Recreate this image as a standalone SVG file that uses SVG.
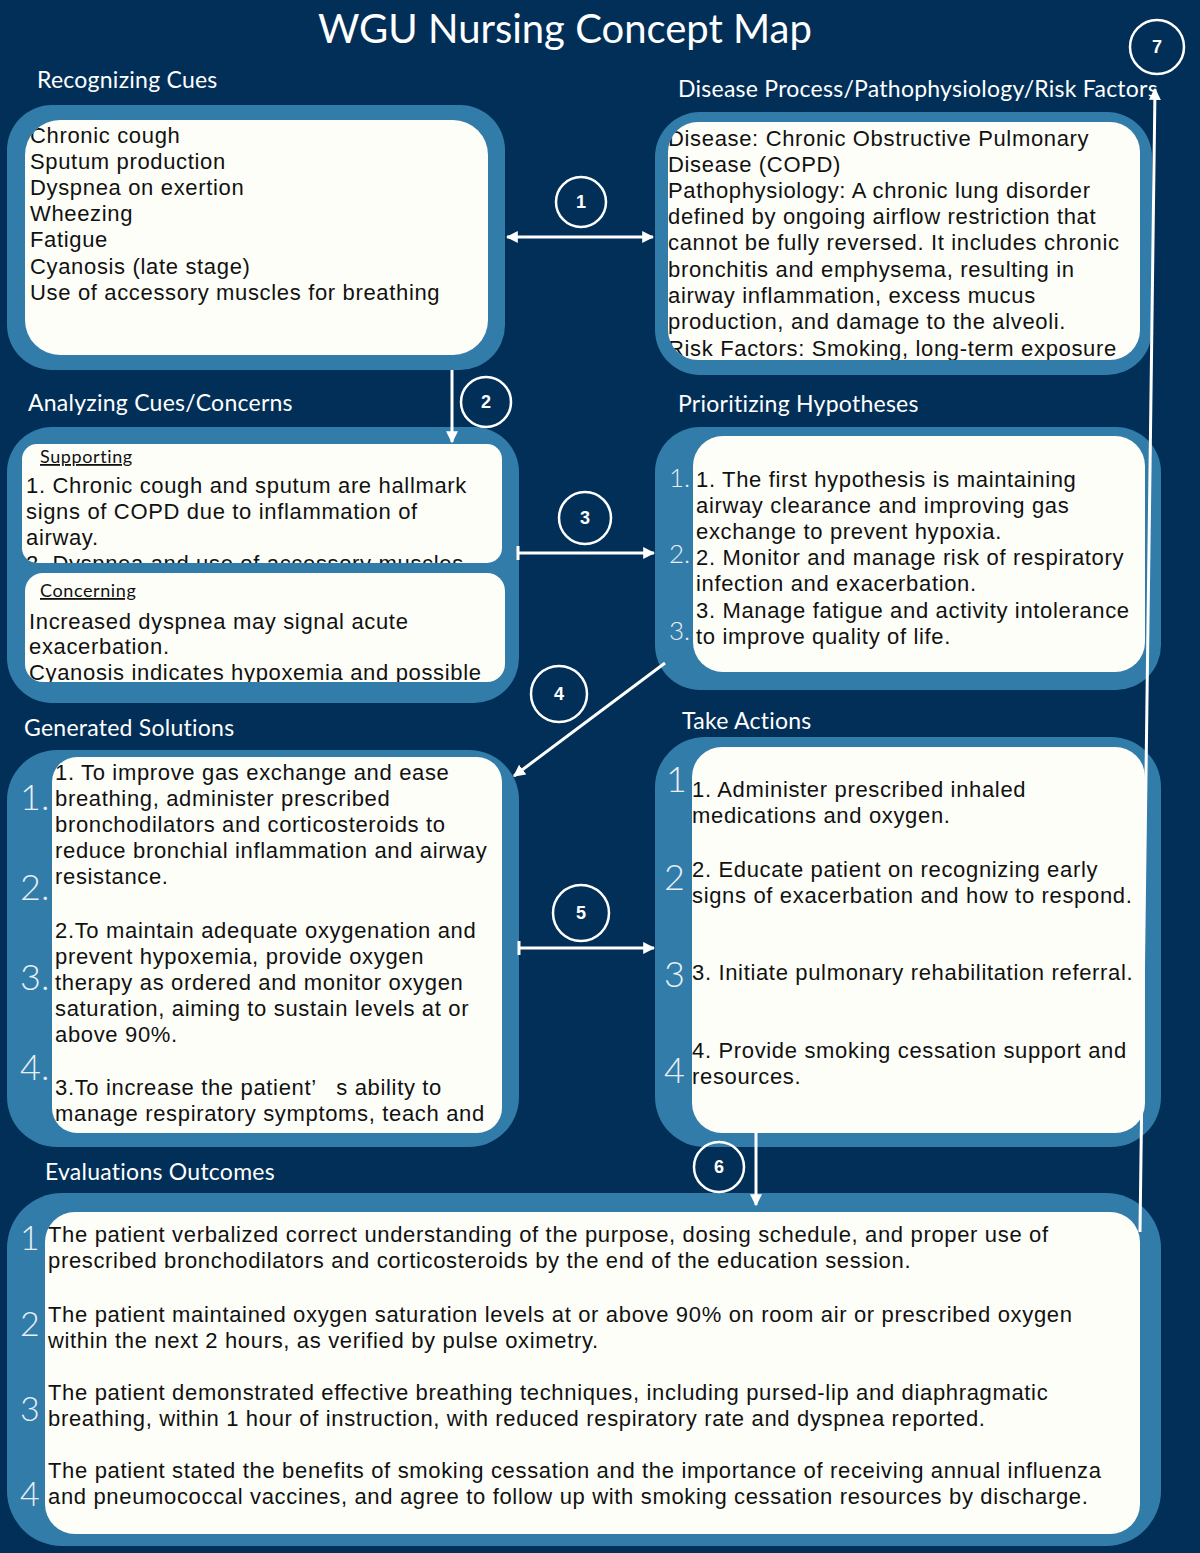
<svg xmlns="http://www.w3.org/2000/svg" width="1200" height="1553" viewBox="0 0 1200 1553">
<style>
.bg{fill:#022f57}
.outer{fill:#327caa}
.inner{fill:#fefef8}
.head{font-family:Lato,"Open Sans","Liberation Sans",sans-serif;fill:#ffffff;font-size:23px;letter-spacing:0.25px}
.title{font-family:Lato,"Open Sans","Liberation Sans",sans-serif;fill:#ffffff;font-size:40px}
.body{font-family:"Liberation Sans",Arial,sans-serif;fill:#111111;font-size:22px;letter-spacing:0.66px}
.sub{font-family:Lato,"Liberation Sans",sans-serif;fill:#111111;font-size:18px;letter-spacing:0.6px;text-decoration:underline}
.num{font-family:Lato,"Open Sans","Liberation Sans",sans-serif;fill:#e8eff5;font-weight:300}
.conn{stroke:#ffffff;stroke-width:3;fill:none}
.badge{stroke:#ffffff;stroke-width:2.5;fill:none}
.badgeText{font-family:"Liberation Sans",Arial,sans-serif;font-weight:bold;fill:#ffffff;font-size:18px;text-anchor:middle}
</style>
<defs>
<marker id="ah" viewBox="0 0 10 10" refX="9" refY="5" markerWidth="4" markerHeight="4" orient="auto-start-reverse" markerUnits="strokeWidth">
<path d="M0,0 L10,5 L0,10 z" fill="#ffffff"/>
</marker>
<clipPath id="c1"><rect x="25" y="120" width="463" height="235" rx="35"/></clipPath>
<clipPath id="c2"><rect x="668" y="122" width="472" height="238" rx="30"/></clipPath>
<clipPath id="c3a"><rect x="22" y="444" width="480" height="119" rx="15"/></clipPath>
<clipPath id="c3b"><rect x="25" y="573" width="480" height="109" rx="18"/></clipPath>
<clipPath id="c4"><rect x="693" y="436" width="452" height="236" rx="30"/></clipPath>
<clipPath id="c5"><rect x="52" y="757" width="450" height="376" rx="25"/></clipPath>
<clipPath id="c6"><rect x="692" y="747" width="453" height="386" rx="30"/></clipPath>
<clipPath id="c7"><rect x="45" y="1212" width="1095" height="322" rx="30"/></clipPath>
</defs>
<rect class="bg" x="0" y="0" width="1200" height="1553"/>
<text class="title" x="565" y="43" text-anchor="middle">WGU Nursing Concept Map</text>

<g id="recognizing-cues">
<text class="head" x="37" y="88">Recognizing Cues</text>
<rect class="outer" x="7" y="105" width="498" height="265" rx="45"/>
<rect class="inner" x="25" y="120" width="463" height="235" rx="35"/>
<g clip-path="url(#c1)">
<text class="body" x="30" y="143">Chronic cough</text>
<text class="body" x="30" y="169">Sputum production</text>
<text class="body" x="30" y="195">Dyspnea on exertion</text>
<text class="body" x="30" y="221">Wheezing</text>
<text class="body" x="30" y="247">Fatigue</text>
<text class="body" x="30" y="274">Cyanosis (late stage)</text>
<text class="body" x="30" y="300">Use of accessory muscles for breathing</text>
</g>
</g>

<g id="disease-process">
<text class="head" x="678" y="97">Disease Process/Pathophysiology/Risk Factors</text>
<rect class="outer" x="655" y="112" width="497" height="263" rx="45"/>
<rect class="inner" x="668" y="122" width="472" height="238" rx="30"/>
<g clip-path="url(#c2)">
<text class="body" x="668" y="146">Disease: Chronic Obstructive Pulmonary</text>
<text class="body" x="668" y="172">Disease (COPD)</text>
<text class="body" x="668" y="198">Pathophysiology: A chronic lung disorder</text>
<text class="body" x="668" y="224">defined by ongoing airflow restriction that</text>
<text class="body" x="668" y="250">cannot be fully reversed. It includes chronic</text>
<text class="body" x="668" y="277">bronchitis and emphysema, resulting in</text>
<text class="body" x="668" y="303">airway inflammation, excess mucus</text>
<text class="body" x="668" y="329">production, and damage to the alveoli.</text>
<text class="body" x="668" y="356">Risk Factors: Smoking, long-term exposure</text>
</g>
</g>

<g id="analyzing-cues">
<text class="head" x="28" y="411">Analyzing Cues/Concerns</text>
<rect class="outer" x="7" y="427" width="512" height="276" rx="45"/>
<rect class="inner" x="22" y="444" width="480" height="119" rx="15"/>
<rect class="inner" x="25" y="573" width="480" height="109" rx="18"/>
<g clip-path="url(#c3a)">
<text class="sub" x="40" y="463">Supporting</text>
<text class="body" x="26" y="493">1. Chronic cough and sputum are hallmark</text>
<text class="body" x="26" y="519">signs of COPD due to inflammation of</text>
<text class="body" x="26" y="545">airway.</text>
<text class="body" x="26" y="571">2. Dyspnea and use of accessory muscles</text>
</g>
<g clip-path="url(#c3b)">
<text class="sub" x="40" y="597">Concerning</text>
<text class="body" x="29" y="629">Increased dyspnea may signal acute</text>
<text class="body" x="29" y="654">exacerbation.</text>
<text class="body" x="29" y="680">Cyanosis indicates hypoxemia and possible</text>
</g>
</g>

<g id="prioritizing-hypotheses">
<text class="head" x="678" y="412">Prioritizing Hypotheses</text>
<rect class="outer" x="655" y="427" width="506" height="263" rx="45"/>
<rect class="inner" x="693" y="436" width="452" height="236" rx="30"/>
<text class="num" x="669" y="487" font-size="26">1.</text>
<text class="num" x="669" y="563" font-size="26">2.</text>
<text class="num" x="669" y="640" font-size="26">3.</text>
<g clip-path="url(#c4)">
<text class="body" x="696" y="487">1. The first hypothesis is maintaining</text>
<text class="body" x="696" y="513">airway clearance and improving gas</text>
<text class="body" x="696" y="539">exchange to prevent hypoxia.</text>
<text class="body" x="696" y="565">2. Monitor and manage risk of respiratory</text>
<text class="body" x="696" y="591">infection and exacerbation.</text>
<text class="body" x="696" y="618">3. Manage fatigue and activity intolerance</text>
<text class="body" x="696" y="644">to improve quality of life.</text>
</g>
</g>

<g id="generated-solutions">
<text class="head" x="24" y="736">Generated Solutions</text>
<rect class="outer" x="7" y="750" width="512" height="397" rx="50"/>
<rect class="inner" x="52" y="757" width="450" height="376" rx="25"/>
<text class="num" x="20" y="810" font-size="36">1.</text>
<text class="num" x="20" y="900" font-size="36">2.</text>
<text class="num" x="20" y="990" font-size="36">3.</text>
<text class="num" x="20" y="1080" font-size="36">4.</text>
<g clip-path="url(#c5)">
<text class="body" x="55" y="780">1. To improve gas exchange and ease</text>
<text class="body" x="55" y="806">breathing, administer prescribed</text>
<text class="body" x="55" y="832">bronchodilators and corticosteroids to</text>
<text class="body" x="55" y="858">reduce bronchial inflammation and airway</text>
<text class="body" x="55" y="884">resistance.</text>
<text class="body" x="55" y="938">2.To maintain adequate oxygenation and</text>
<text class="body" x="55" y="964">prevent hypoxemia, provide oxygen</text>
<text class="body" x="55" y="990">therapy as ordered and monitor oxygen</text>
<text class="body" x="55" y="1016">saturation, aiming to sustain levels at or</text>
<text class="body" x="55" y="1042">above 90%.</text>
<text class="body" x="55" y="1095" xml:space="preserve">3.To increase the patient’   s ability to</text>
<text class="body" x="55" y="1121">manage respiratory symptoms, teach and</text>
</g>
</g>

<g id="take-actions">
<text class="head" x="682" y="729">Take Actions</text>
<rect class="outer" x="655" y="737" width="506" height="410" rx="50"/>
<rect class="inner" x="692" y="747" width="453" height="386" rx="30"/>
<text class="num" x="666" y="792" font-size="36">1</text>
<text class="num" x="664" y="890" font-size="36">2</text>
<text class="num" x="664" y="987" font-size="36">3</text>
<text class="num" x="664" y="1083" font-size="36">4</text>
<g clip-path="url(#c6)">
<text class="body" x="692" y="797">1. Administer prescribed inhaled</text>
<text class="body" x="692" y="823">medications and oxygen.</text>
<text class="body" x="692" y="877">2. Educate patient on recognizing early</text>
<text class="body" x="692" y="903">signs of exacerbation and how to respond.</text>
<text class="body" x="692" y="980">3. Initiate pulmonary rehabilitation referral.</text>
<text class="body" x="692" y="1058">4. Provide smoking cessation support and</text>
<text class="body" x="692" y="1084">resources.</text>
</g>
</g>

<g id="evaluation-outcomes">
<text class="head" x="45" y="1180">Evaluations Outcomes</text>
<rect class="outer" x="7" y="1193" width="1154" height="353" rx="55"/>
<rect class="inner" x="45" y="1212" width="1095" height="322" rx="30"/>
<text class="num" x="20" y="1250" font-size="34">1</text>
<text class="num" x="20" y="1336" font-size="34">2</text>
<text class="num" x="20" y="1421" font-size="34">3</text>
<text class="num" x="20" y="1506" font-size="34">4</text>
<g clip-path="url(#c7)">
<text class="body" x="48" y="1242">The patient verbalized correct understanding of the purpose, dosing schedule, and proper use of</text>
<text class="body" x="48" y="1268">prescribed bronchodilators and corticosteroids by the end of the education session.</text>
<text class="body" x="48" y="1322">The patient maintained oxygen saturation levels at or above 90% on room air or prescribed oxygen</text>
<text class="body" x="48" y="1348">within the next 2 hours, as verified by pulse oximetry.</text>
<text class="body" x="48" y="1400">The patient demonstrated effective breathing techniques, including pursed-lip and diaphragmatic</text>
<text class="body" x="48" y="1426">breathing, within 1 hour of instruction, with reduced respiratory rate and dyspnea reported.</text>
<text class="body" x="48" y="1478">The patient stated the benefits of smoking cessation and the importance of receiving annual influenza</text>
<text class="body" x="48" y="1504">and pneumococcal vaccines, and agree to follow up with smoking cessation resources by discharge.</text>
</g>
</g>

<g id="connectors">
<line class="conn" x1="507" y1="237" x2="653" y2="237" marker-start="url(#ah)" marker-end="url(#ah)"/>
<line class="conn" x1="452" y1="370" x2="452" y2="442" marker-end="url(#ah)"/>
<line class="conn" x1="518" y1="553" x2="654" y2="553" marker-end="url(#ah)"/>
<line class="conn" x1="518" y1="546" x2="518" y2="560"/>
<line class="conn" x1="665" y1="663" x2="514" y2="776" marker-end="url(#ah)"/>
<line class="conn" x1="519" y1="948" x2="654" y2="948" marker-end="url(#ah)"/>
<line class="conn" x1="519" y1="941" x2="519" y2="955"/>
<line class="conn" x1="756" y1="1133" x2="756" y2="1205" marker-end="url(#ah)"/>
<line class="conn" x1="1140" y1="1232" x2="1155" y2="89" marker-end="url(#ah)"/>
<circle class="badge" cx="581" cy="202" r="25"/>
<text class="badgeText" x="581" y="208">1</text>
<circle class="badge" cx="486" cy="402" r="25"/>
<text class="badgeText" x="486" y="408">2</text>
<circle class="badge" cx="585" cy="518" r="26"/>
<text class="badgeText" x="585" y="524">3</text>
<circle class="badge" cx="559" cy="694" r="28"/>
<text class="badgeText" x="559" y="700">4</text>
<circle class="badge" cx="581" cy="913" r="28"/>
<text class="badgeText" x="581" y="919">5</text>
<circle class="badge" cx="719" cy="1167" r="25"/>
<text class="badgeText" x="719" y="1173">6</text>
<circle class="badge" cx="1157" cy="47" r="27"/>
<text class="badgeText" x="1157" y="53">7</text>
</g>
</svg>
